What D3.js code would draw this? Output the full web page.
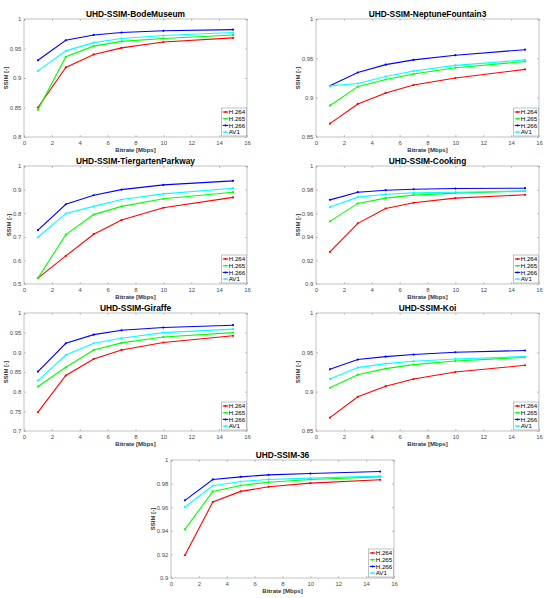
<!DOCTYPE html>
<html>
<head>
<meta charset="utf-8">
<script src="https://cdn.jsdelivr.net/npm/d3@7"></script>
<style>
  body { margin: 0; background: #fff; }
  svg { display: block; font-family: "Liberation Sans", Arial, sans-serif; }
  .tick text { fill: #4d4d4d; font-size: 6px; }
</style>
</head>
<body>
<svg id="chart" width="550" height="598"></svg>
<script>
// bitrates in Mbps, shared by every panel
var bitrates = [1, 3, 5, 7, 10, 15];
var codecs = ["H.264", "H.265", "H.266", "AV1"];
var codecColors = ["#ff0000", "#00ff00", "#0000ff", "#00ffff"];
var xTicks = [0, 2, 4, 6, 8, 10, 12, 14, 16];

// SSIM per codec (rows: H.264, H.265, H.266, AV1)
var bodeMuseum = [
  [0.850, 0.918, 0.940, 0.951, 0.961, 0.968],
  [0.846, 0.936, 0.954, 0.962, 0.967, 0.973],
  [0.930, 0.964, 0.973, 0.977, 0.980, 0.982],
  [0.912, 0.946, 0.960, 0.967, 0.972, 0.977]
];
var neptuneFountain3 = [
  [0.867, 0.892, 0.906, 0.916, 0.925, 0.936],
  [0.890, 0.914, 0.923, 0.930, 0.938, 0.946],
  [0.915, 0.932, 0.942, 0.948, 0.954, 0.961],
  [0.915, 0.918, 0.927, 0.934, 0.941, 0.948]
];
var tiergartenParkway = [
  [0.525, 0.619, 0.711, 0.771, 0.823, 0.867],
  [0.525, 0.709, 0.794, 0.829, 0.861, 0.889],
  [0.728, 0.838, 0.876, 0.900, 0.920, 0.937],
  [0.698, 0.799, 0.829, 0.858, 0.882, 0.906]
];
var cooking = [
  [0.9272, 0.9514, 0.9640, 0.9688, 0.9728, 0.9756],
  [0.9531, 0.9683, 0.9728, 0.9753, 0.9770, 0.9787],
  [0.9713, 0.9778, 0.9795, 0.9803, 0.9809, 0.9812],
  [0.9652, 0.9736, 0.9761, 0.9772, 0.9778, 0.9787]
];
var giraffe = [
  [0.748, 0.841, 0.883, 0.906, 0.925, 0.942],
  [0.813, 0.862, 0.906, 0.924, 0.939, 0.950],
  [0.851, 0.923, 0.945, 0.956, 0.963, 0.969],
  [0.828, 0.893, 0.923, 0.936, 0.950, 0.959]
];
var koi = [
  [0.867, 0.8935, 0.907, 0.916, 0.925, 0.9335],
  [0.905, 0.9216, 0.9293, 0.9344, 0.939, 0.9437],
  [0.9284, 0.9408, 0.9446, 0.9472, 0.9501, 0.9523],
  [0.916, 0.9306, 0.9357, 0.9387, 0.9416, 0.9446]
];
var seq36 = [
  [0.9193, 0.9644, 0.9734, 0.9773, 0.9804, 0.9832],
  [0.9412, 0.9734, 0.9784, 0.9812, 0.9835, 0.9857],
  [0.9658, 0.9835, 0.9857, 0.9874, 0.9885, 0.9902],
  [0.9602, 0.9782, 0.9818, 0.9835, 0.9846, 0.9863]
];

var panels = [
  { title: "UHD-SSIM-BodeMuseum", data: bodeMuseum, yMin: 0.8, yTicks: [0.8, 0.85, 0.9, 0.95, 1], left: 24, top: 19 },
  { title: "UHD-SSIM-NeptuneFountain3", data: neptuneFountain3, yMin: 0.85, yTicks: [0.85, 0.9, 0.95, 1], left: 316, top: 19 },
  { title: "UHD-SSIM-TiergartenParkway", data: tiergartenParkway, yMin: 0.5, yTicks: [0.5, 0.6, 0.7, 0.8, 0.9, 1], left: 24, top: 166 },
  { title: "UHD-SSIM-Cooking", data: cooking, yMin: 0.9, yTicks: [0.9, 0.92, 0.94, 0.96, 0.98, 1], left: 316, top: 166 },
  { title: "UHD-SSIM-Giraffe", data: giraffe, yMin: 0.7, yTicks: [0.7, 0.75, 0.8, 0.85, 0.9, 0.95, 1], left: 24, top: 313 },
  { title: "UHD-SSIM-Koi", data: koi, yMin: 0.85, yTicks: [0.85, 0.9, 0.95, 1], left: 316, top: 313 },
  { title: "UHD-SSIM-36", data: seq36, yMin: 0.9, yTicks: [0.9, 0.92, 0.94, 0.96, 0.98, 1], left: 171, top: 460 }
];

var width = 223, height = 118;
var svg = d3.select("#chart");

panels.forEach(function (p) {
  var g = svg.append("g").attr("transform", "translate(" + p.left + "," + p.top + ")");

  var x = d3.scaleLinear().domain([0, 16]).range([0, width]);
  var y = d3.scaleLinear().domain([p.yMin, 1]).range([height, 0]);

  // box
  g.append("rect")
    .attr("width", width).attr("height", height)
    .attr("fill", "#fff").attr("stroke", "#9a9a9a").attr("stroke-width", 0.6);

  var fmt = function (d) { return d3.format("~g")(d); };

  g.append("g").attr("transform", "translate(0," + height + ")")
    .call(d3.axisBottom(x).tickValues(xTicks).tickFormat(fmt).tickSizeInner(-2).tickSizeOuter(0).tickPadding(3.5));
  var yAxis = g.append("g")
    .call(d3.axisLeft(y).tickValues(p.yTicks).tickFormat(fmt).tickSizeInner(-2).tickSizeOuter(0).tickPadding(2.7));
  // ticks on top and right too, like a boxed matlab axis
  g.append("g").call(d3.axisTop(x).tickValues(xTicks).tickFormat("").tickSizeInner(-2).tickSizeOuter(0));
  g.append("g").attr("transform", "translate(" + width + ",0)")
    .call(d3.axisRight(y).tickValues(p.yTicks).tickFormat("").tickSizeInner(-2).tickSizeOuter(0));
  g.selectAll(".domain").remove();
  g.selectAll(".tick line").attr("stroke", "#9a9a9a").attr("stroke-width", 0.6);

  // lines
  var line = d3.line()
    .x(function (d, i) { return x(bitrates[i]); })
    .y(function (d) { return y(d); });

  p.data.forEach(function (series, k) {
    g.append("path")
      .datum(series)
      .attr("d", line)
      .attr("fill", "none")
      .attr("stroke", codecColors[k])
      .attr("stroke-width", 1.1);
    g.selectAll(".dot" + k)
      .data(series)
      .enter().append("circle")
      .attr("cx", function (d, i) { return x(bitrates[i]); })
      .attr("cy", function (d) { return y(d); })
      .attr("r", 1.1)
      .attr("fill", codecColors[k]);
  });

  // title + labels
  g.append("text")
    .attr("x", width / 2).attr("y", -2)
    .attr("text-anchor", "middle")
    .attr("font-size", 8.4).attr("font-weight", "bold").attr("fill", "#000")
    .text(p.title);
  g.append("text")
    .attr("x", width / 2).attr("y", height + 15)
    .attr("text-anchor", "middle")
    .attr("font-size", 6).attr("font-weight", "bold").attr("fill", "#333")
    .text("Bitrate [Mbps]");

  // y label sits just left of the widest tick label
  var minX = 0;
  yAxis.selectAll(".tick text").each(function () {
    var b = this.getBBox();
    minX = Math.min(minX, b.x);
  });
  g.append("text")
    .attr("transform", "translate(" + (minX - 1.5) + "," + (height / 2) + ") rotate(-90)")
    .attr("text-anchor", "middle")
    .attr("font-size", 6).attr("font-weight", "bold").attr("fill", "#333")
    .text("SSIM [-]");

  // legend, south east
  var lw = 25, lh = 28;
  var lg = g.append("g").attr("transform", "translate(" + (width - lw - 0.5) + "," + (height - lh - 1) + ")");
  lg.append("rect").attr("width", lw).attr("height", lh)
    .attr("fill", "#fff").attr("stroke", "#9a9a9a").attr("stroke-width", 0.6);
  codecs.forEach(function (c, k) {
    var yy = 4 + k * 6.7;
    lg.append("line").attr("x1", 1.2).attr("x2", 6.8).attr("y1", yy).attr("y2", yy)
      .attr("stroke", codecColors[k]).attr("stroke-width", 1.1);
    lg.append("circle").attr("cx", 4).attr("cy", yy).attr("r", 1).attr("fill", codecColors[k]);
    lg.append("text").attr("x", 7.2).attr("y", yy + 2.2)
      .attr("font-size", 6.2).attr("fill", "#000")
      .text(c);
  });
});
</script>
</body>
</html>
